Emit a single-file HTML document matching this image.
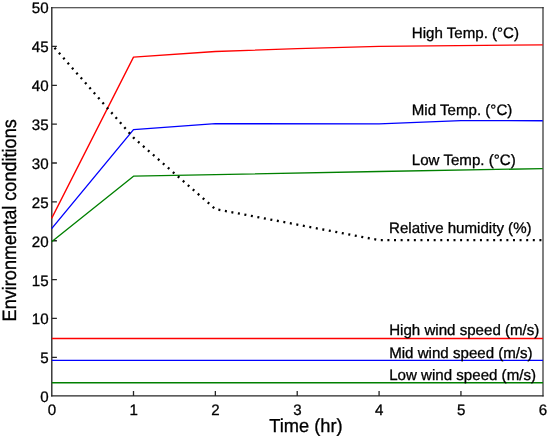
<!DOCTYPE html>
<html><head><meta charset="utf-8"><title>Environmental conditions</title>
<style>html,body{margin:0;padding:0;background:#fff;width:550px;height:438px;overflow:hidden}svg{display:block}</style>
</head><body>
<svg xmlns="http://www.w3.org/2000/svg" width="550" height="438" viewBox="0 0 550 438" text-rendering="geometricPrecision">
<rect width="550" height="438" fill="#fff"/>
<g stroke="#262626" fill="none"><path d="M51.8,7.1V396.55" stroke-width="1.36"/><path d="M543,7.1V396.55" stroke-width="1.17"/><path d="M51.1,7.73H543.6" stroke-width="1.13"/><path d="M51.1,395.9H543.6" stroke-width="1.3"/></g>
<path d="M51.9,357.33h5 M51.9,318.47h5 M51.9,279.61h5 M51.9,240.74h5 M51.9,201.88h5 M51.9,163.01h5 M51.9,124.14h5 M51.9,85.28h5 M51.9,46.42h5 M133.50,395.9v-5 M215.36,395.9v-5 M297.22,395.9v-5 M379.08,395.9v-5 M460.94,395.9v-5" stroke="#262626" stroke-width="1.3" fill="none"/>
<polyline points="51.64,218.40 133.50,57.10 215.36,51.50 297.22,48.60 379.08,46.30 542.80,44.80" fill="none" stroke="#ff0000" stroke-width="1.35" stroke-linejoin="round"/>
<polyline points="51.64,228.60 133.50,129.60 215.36,123.70 379.08,123.90 460.94,120.60 542.80,120.70" fill="none" stroke="#0000ff" stroke-width="1.35" stroke-linejoin="round"/>
<polyline points="51.64,241.70 133.50,176.20 215.36,174.70 379.08,171.50 542.80,168.60" fill="none" stroke="#008000" stroke-width="1.35" stroke-linejoin="round"/>
<polyline points="51.64,44.50 133.50,137.70 215.40,209.10 379.10,240.15 542.80,240.15" fill="none" stroke="#000" stroke-width="2.3" stroke-dasharray="2.0 4.61" stroke-dashoffset="-4.4"/>
<line x1="51.9" y1="338.5" x2="543.0" y2="338.5" stroke="#ff0000" stroke-width="1.35"/>
<line x1="51.9" y1="360.35" x2="543.0" y2="360.35" stroke="#0000ff" stroke-width="1.35"/>
<line x1="51.9" y1="382.7" x2="543.0" y2="382.7" stroke="#008000" stroke-width="1.35"/>
<g font-family="Liberation Sans, Arial, sans-serif" font-size="15.1" fill="#000" stroke="#000" stroke-width="0.3">
<text x="48.60" y="402.10" text-anchor="end">0</text>
<text x="48.60" y="363.23" text-anchor="end">5</text>
<text x="48.60" y="324.37" text-anchor="end">10</text>
<text x="48.60" y="285.50" text-anchor="end">15</text>
<text x="48.60" y="246.64" text-anchor="end">20</text>
<text x="48.60" y="207.78" text-anchor="end">25</text>
<text x="48.60" y="168.91" text-anchor="end">30</text>
<text x="48.60" y="130.04" text-anchor="end">35</text>
<text x="48.60" y="91.18" text-anchor="end">40</text>
<text x="48.60" y="52.32" text-anchor="end">45</text>
<text x="48.60" y="13.45" text-anchor="end">50</text>
<text x="51.84" y="415.20" text-anchor="middle">0</text>
<text x="133.70" y="415.20" text-anchor="middle">1</text>
<text x="215.56" y="415.20" text-anchor="middle">2</text>
<text x="297.42" y="415.20" text-anchor="middle">3</text>
<text x="379.28" y="415.20" text-anchor="middle">4</text>
<text x="461.14" y="415.20" text-anchor="middle">5</text>
<text x="543.00" y="415.20" text-anchor="middle">6</text>
<text x="411.80" y="38.00">High Temp. (°C)</text>
<text x="411.80" y="115.30">Mid Temp. (°C)</text>
<text x="411.80" y="165.00">Low Temp. (°C)</text>
<text x="389.00" y="232.60">Relative humidity (%)</text>
<text x="389.20" y="334.60">High wind speed (m/s)</text>
<text x="389.20" y="357.50">Mid wind speed (m/s)</text>
<text x="389.20" y="380.00">Low wind speed (m/s)</text>
<text transform="translate(305.90,431.50) scale(1,1.03)" text-anchor="middle" font-size="18.3">Time (hr)</text>
</g>
<text transform="translate(16.4,321.4) rotate(-90) scale(1,1.07)" font-family="Liberation Sans, Arial, sans-serif" font-size="18.1" stroke="#000" stroke-width="0.3">Environmental conditions</text>
</svg>
</body></html>
